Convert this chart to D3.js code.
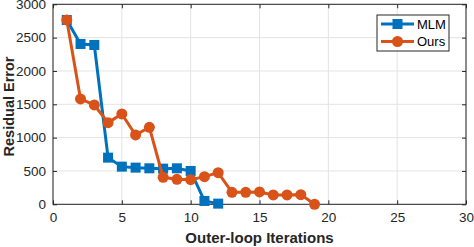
<!DOCTYPE html>
<html>
<head>
<meta charset="utf-8">
<script src="https://cdn.jsdelivr.net/npm/d3@7"></script>
<style>
  body { margin: 0; background: #fff; }
  svg { display: block; font-family: Arial, "Liberation Sans", sans-serif; }
</style>
</head>
<body>
<svg width="474" height="247"></svg>
<script>
// iterations and error values
var mlmIter = [1, 2, 3, 4, 5, 6, 7, 8, 9, 10, 11, 12];
var mlmErr  = [2765, 2405, 2390, 700, 565, 550, 540, 535, 540, 500, 50, 10];
var oursIter = [1, 2, 3, 4, 5, 6, 7, 8, 9, 10, 11, 12, 13, 14, 15, 16, 17, 18, 19];
var oursErr  = [2765, 1580, 1490, 1225, 1355, 1040, 1155, 405, 375, 370, 415, 475, 180, 180, 185, 140, 140, 145, 0];
var xTicks = [0, 5, 10, 15, 20, 25, 30];
var yTicks = [0, 500, 1000, 1500, 2000, 2500, 3000];
var seriesNames = ['MLM', 'Ours'];

var blue = '#0072BD', orange = '#D95319';

var svg = d3.select('svg');
// plot box edges (note: "top" is reserved on window, so use pTop etc)
var pLeft = 53, pRight = 466, pTop = 4.3, pBottom = 204.3;

var x = d3.scaleLinear().domain([0, 30]).range([pLeft, pRight]);
var y = d3.scaleLinear().domain([0, 3000]).range([pBottom, pTop]);

// grid
var grid = svg.append('g');
grid.selectAll('.gx').data(xTicks).enter().append('line')
  .attr('x1', d => x(d)).attr('x2', d => x(d))
  .attr('y1', pTop).attr('y2', pBottom)
  .attr('stroke', '#e3e3e3').attr('stroke-width', 1);
grid.selectAll('.gy').data(yTicks).enter().append('line')
  .attr('x1', pLeft).attr('x2', pRight)
  .attr('y1', d => y(d)).attr('y2', d => y(d))
  .attr('stroke', '#e3e3e3').attr('stroke-width', 1);

// axes (ticks pointing inward, box style)
var tickLen = 4;
var axisColor = '#262626';
var fmt = d3.format('d');
svg.append('g')
  .attr('transform', 'translate(0,' + pBottom + ')')
  .call(d3.axisBottom(x).tickValues(xTicks).tickSize(-tickLen).tickPadding(8).tickFormat(fmt))
  .call(g => g.select('.domain').remove());
svg.append('g')
  .attr('transform', 'translate(0,' + pTop + ')')
  .call(d3.axisTop(x).tickValues(xTicks).tickSize(-tickLen).tickFormat(''))
  .call(g => g.select('.domain').remove());
svg.append('g')
  .attr('transform', 'translate(' + pLeft + ',0)')
  .call(d3.axisLeft(y).tickValues(yTicks).tickSize(-tickLen).tickPadding(7).tickFormat(fmt))
  .call(g => g.select('.domain').remove());
svg.append('g')
  .attr('transform', 'translate(' + pRight + ',0)')
  .call(d3.axisRight(y).tickValues(yTicks).tickSize(-tickLen).tickFormat(''))
  .call(g => g.select('.domain').remove());

svg.selectAll('.tick line').attr('stroke', axisColor);
svg.selectAll('.tick text')
  .attr('fill', axisColor)
  .style('font-size', '13.5px')
  .style('font-family', 'Arial, "Liberation Sans", sans-serif');

svg.append('rect')
  .attr('x', pLeft).attr('y', pTop)
  .attr('width', pRight - pLeft).attr('height', pBottom - pTop)
  .attr('fill', 'none').attr('stroke', axisColor).attr('stroke-width', 1);

// lines
var line = d3.line().x(d => x(d[0])).y(d => y(d[1]));
var mlmData = mlmIter.map((d, i) => [d, mlmErr[i]]);
var oursData = oursIter.map((d, i) => [d, oursErr[i]]);

svg.append('path').attr('d', line(mlmData))
  .attr('fill', 'none').attr('stroke', blue).attr('stroke-width', 3);
svg.selectAll('.sq').data(mlmData).enter().append('rect')
  .attr('x', d => x(d[0]) - 5).attr('y', d => y(d[1]) - 5)
  .attr('width', 10).attr('height', 10)
  .attr('fill', blue);

svg.append('path').attr('d', line(oursData))
  .attr('fill', 'none').attr('stroke', orange).attr('stroke-width', 3);
svg.selectAll('.ci').data(oursData).enter().append('circle')
  .attr('cx', d => x(d[0])).attr('cy', d => y(d[1]))
  .attr('r', 5.5)
  .attr('fill', orange);

// axis labels
svg.append('text')
  .attr('x', (pLeft + pRight) / 2).attr('y', 243)
  .attr('text-anchor', 'middle')
  .style('font-size', '15px').style('font-weight', 'bold')
  .attr('fill', axisColor)
  .text('Outer-loop Iterations');
svg.append('text')
  .attr('transform', 'translate(14,' + 106.5 + ') rotate(-90)')
  .attr('text-anchor', 'middle')
  .style('font-size', '14.5px').style('font-weight', 'bold')
  .attr('fill', axisColor)
  .text('Residual Error');

// legend
var lg = svg.append('g');
lg.append('rect')
  .attr('x', 377).attr('y', 15).attr('width', 72).attr('height', 36)
  .attr('fill', '#fff').attr('stroke', axisColor).attr('stroke-width', 1);
var legendRows = [
  { name: seriesNames[0], color: blue, shape: 'square', y: 24 },
  { name: seriesNames[1], color: orange, shape: 'circle', y: 41.5 }
];
legendRows.forEach(function(r) {
  lg.append('line')
    .attr('x1', 381).attr('x2', 414).attr('y1', r.y).attr('y2', r.y)
    .attr('stroke', r.color).attr('stroke-width', 3);
  if (r.shape === 'square') {
    lg.append('rect').attr('x', 397.5 - 5).attr('y', r.y - 5)
      .attr('width', 10).attr('height', 10).attr('fill', r.color);
  } else {
    lg.append('circle').attr('cx', 397.5).attr('cy', r.y).attr('r', 5.5)
      .attr('fill', r.color);
  }
  lg.append('text')
    .attr('x', 417).attr('y', r.y + 4.5)
    .style('font-size', '13px')
    .attr('fill', '#000')
    .text(r.name);
});
</script>
</body>
</html>
